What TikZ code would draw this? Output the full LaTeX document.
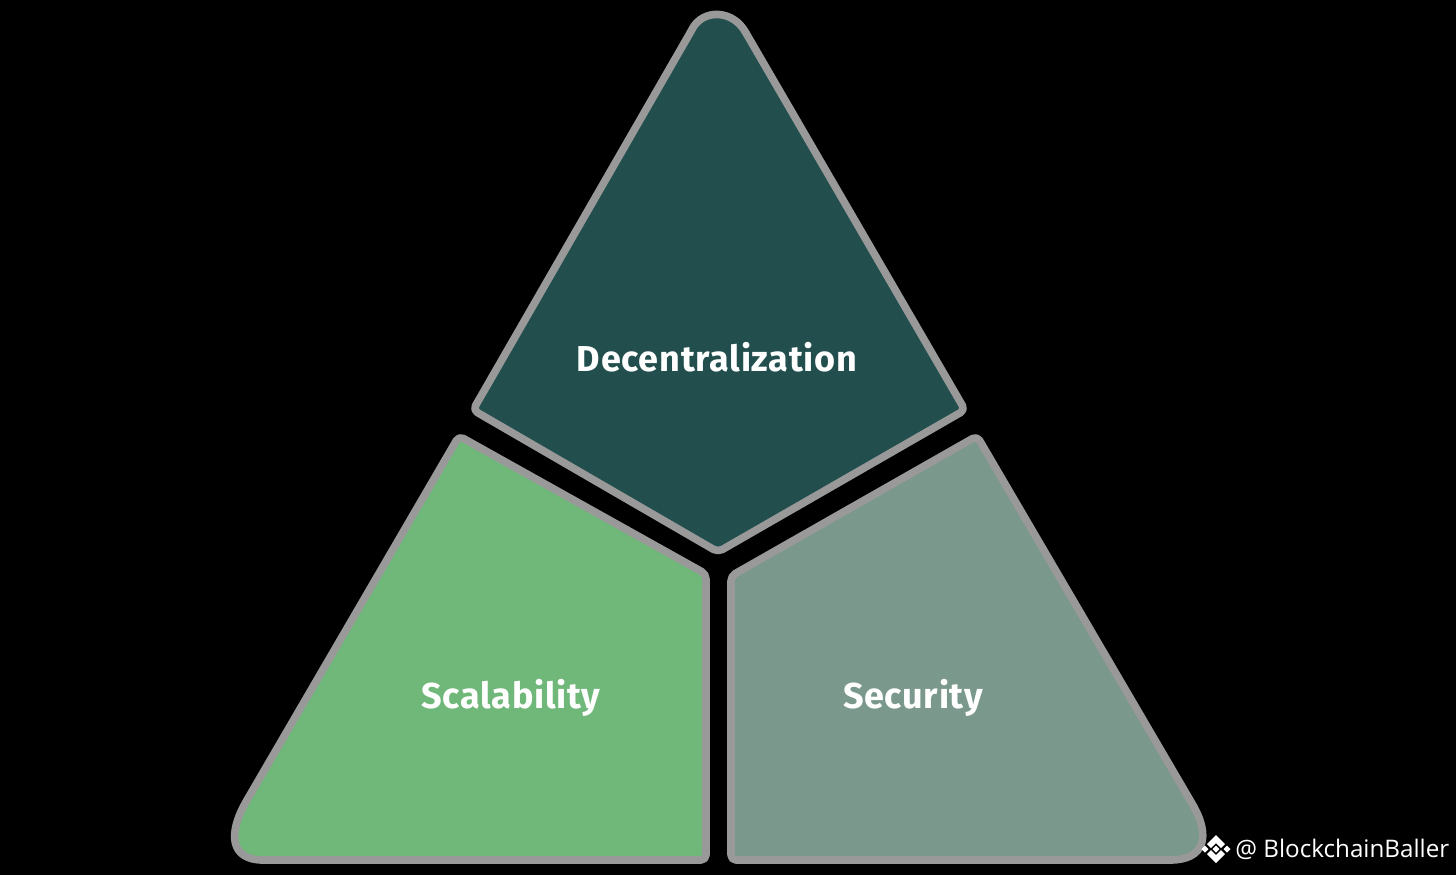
\documentclass[tikz,border=0pt]{standalone}
\usepackage{fontspec}
\setmainfont[LetterSpace=2]{Fira Sans}
\newfontfamily\markfont{Open Sans}
\definecolor{edgegray}{HTML}{999999}
\definecolor{topteal}{HTML}{224F4E}
\definecolor{leftgreen}{HTML}{70B77A}
\definecolor{rightsage}{HTML}{7A988B}
\tikzset{
  piece/.style={draw=edgegray, line width=3.8pt, line join=round},
  title/.style={text=white, font=\fontsize{18}{22}\selectfont\bfseries},
  handle/.style={text=white, font=\markfont\fontsize{12.1}{15}\selectfont},
}
\begin{document}
\begin{tikzpicture}[x=0.5pt,y=-0.5pt]
    \useasboundingbox (0,0) rectangle (1456,875);
    \fill[black] (0,0) rectangle (1456,875);

    \draw[piece, fill=topteal, rounded corners=2.5pt] (473,410) -- (690,33)
      [sharp corners] .. controls (703,9) and (733,9) .. (746,33)
      [rounded corners=2.5pt] -- (965,410) -- (718,552) -- cycle;
    \draw[piece, fill=leftgreen, rounded corners=2.5pt] (459,436) -- (706,574) -- (706,860) -- (268,860)
      [sharp corners] .. controls (232,860) and (226,836) .. (247,800)
      [rounded corners=2.5pt] -- cycle;
    \draw[piece, fill=rightsage, rounded corners=2.5pt] (977,436) -- (1190,800)
      [sharp corners] .. controls (1211,836) and (1205,860) .. (1170,860)
      [rounded corners=2.5pt] -- (731,860) -- (731,576) -- cycle;

    \node[title] (decentral) at (717,357) {Decentralization};
    \node[title] (scale) at (511,698) {Scalability};
    \node[title] (secure) at (913,698) {Security};

    \fill[white] (1216,835) -- (1225,844) -- (1221,848) -- (1216,843) -- (1211,848) -- (1207,844) -- cycle;
    \fill[white] (1216,863) -- (1225,854) -- (1221,850) -- (1216,855) -- (1211,850) -- (1207,854) -- cycle;
    \foreach \x in {1205,1216,1227}
      \fill[white] (\x,845.5) -- (\x+3.5,849) -- (\x,852.5) -- (\x-3.5,849) -- cycle;

    \node[handle, anchor=west, inner sep=0pt] (handle) at (1235,849) {@ BlockchainBaller};

\end{tikzpicture}
\end{document}
